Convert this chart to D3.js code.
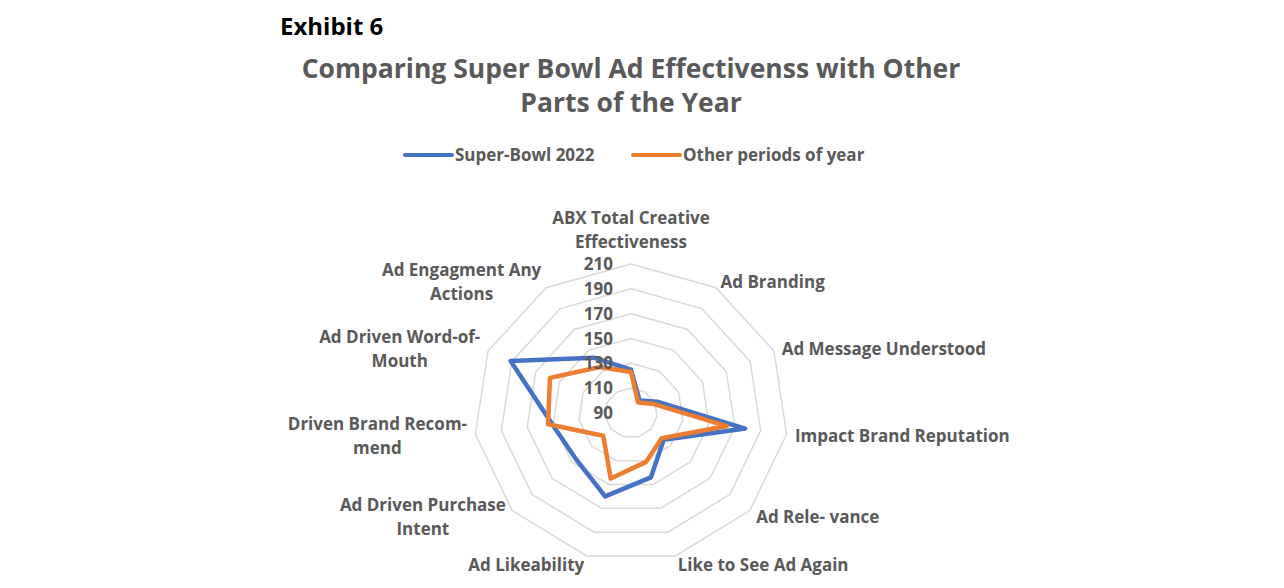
<!DOCTYPE html>
<html>
<head>
<meta charset="utf-8">
<script src="https://cdn.jsdelivr.net/npm/d3@7"></script>
<style>
	html, body { margin: 0; padding: 0; background: #fff; }
	svg text { font-family: "Open Sans", Lato, sans-serif; font-weight: bold; }
</style>
</head>
<body>
<div id="chart"></div>
<script>
'use strict';

// category labels, one entry per spoke (clockwise from top), lines split where Excel wrapped them
var categories = [
	['ABX Total Creative', 'Effectiveness'],
	['Ad Branding'],
	['Ad Message Understood'],
	['Impact Brand Reputation'],
	['Ad Rele- vance'],
	['Like to See Ad Again'],
	['Ad Likeability'],
	['Ad Driven Purchase', 'Intent'],
	['Driven Brand Recom-', 'mend'],
	['Ad Driven Word-of-', 'Mouth'],
	['Ad Engagment Any', 'Actions']
];

var superBowl = [125, 102, 112, 178, 123, 144, 160, 146, 151, 191, 143];
var otherPeriods = [123, 100, 108, 164, 121, 131, 145, 118, 154, 158, 134];

var ticks = [90, 110, 130, 150, 170, 190, 210];

var seriesNames = ['Super-Bowl 2022', 'Other periods of year'];
var seriesColors = ['#4472C4', '#ED7D31'];

var width = 1284;
var height = 588;
var cx = 631;
var cy = 413;
var radius = 149;
var stretch = 1.055;   // the source picture is slightly wider than tall
var textColor = '#595959';

var svg = d3.select('#chart').append('svg')
	.attr('width', width)
	.attr('height', height);

// headings
svg.append('text')
	.attr('x', 280)
	.attr('y', 35)
	.attr('fill', '#000')
	.style('font-size', '24px')
	.text('Exhibit 6');

svg.append('text')
	.attr('x', cx)
	.attr('y', 78)
	.attr('text-anchor', 'middle')
	.attr('fill', textColor)
	.style('font-size', '26.5px')
	.text('Comparing Super Bowl Ad Effectivenss with Other');

svg.append('text')
	.attr('x', cx)
	.attr('y', 112)
	.attr('text-anchor', 'middle')
	.attr('fill', textColor)
	.style('font-size', '26.5px')
	.text('Parts of the Year');

// legend
var legendX = [405, 633];
var legend = svg.append('g').attr('class', 'legend');
seriesNames.forEach(function(name, i){
	legend.append('line')
		.attr('x1', legendX[i])
		.attr('x2', legendX[i] + 47)
		.attr('y1', 155)
		.attr('y2', 155)
		.attr('stroke', seriesColors[i])
		.attr('stroke-width', 4)
		.attr('stroke-linecap', 'round');
	legend.append('text')
		.attr('x', legendX[i] + 50)
		.attr('y', 161)
		.attr('fill', textColor)
		.style('font-size', '17px')
		.text(name);
});

// scales
var r = d3.scaleLinear().domain([90, 210]).range([0, radius]);
var angle = d3.scaleLinear().domain([0, categories.length]).range([0, 2 * Math.PI]);
var idx = d3.range(categories.length);

var line = d3.lineRadial()
	.curve(d3.curveLinearClosed);

var plot = svg.append('g')
	.attr('transform', 'translate(' + cx + ',' + cy + ') scale(' + stretch + ',1)');

// grid rings
plot.append('g').attr('class', 'grid')
	.selectAll('path')
	.data(ticks.slice(1))
	.enter().append('path')
	.attr('d', function(t){
		return line.angle(function(i){ return angle(i); }).radius(function(){ return r(t); })(idx);
	})
	.attr('fill', 'none')
	.attr('stroke', '#d9d9d9')
	.attr('stroke-width', 1.5)
	.attr('vector-effect', 'non-scaling-stroke');

// series
[superBowl, otherPeriods].forEach(function(values, s){
	plot.append('path')
		.attr('d', line.angle(function(i){ return angle(i); }).radius(function(i){ return r(values[i]); })(idx))
		.attr('fill', 'none')
		.attr('stroke', seriesColors[s])
		.attr('stroke-width', 4.5)
		.attr('stroke-linejoin', 'round')
		.attr('vector-effect', 'non-scaling-stroke');
});

// tick labels on the top spoke
svg.append('g').attr('class', 'ticks')
	.selectAll('text')
	.data(ticks)
	.enter().append('text')
	.attr('x', cx - 18)
	.attr('y', function(t){ return cy - r(t) + 6; })
	.attr('text-anchor', 'end')
	.attr('fill', textColor)
	.style('font-size', '17px')
	.text(function(t){ return t; });

// category labels just outside the outer ring
var lineH = 24;
var labels = svg.append('g').attr('class', 'labels');
categories.forEach(function(lines, i){
	var a = angle(i);
	var sx = Math.sin(a), sy = -Math.cos(a);
	var px = cx + (r(210) + 8) * sx * stretch;
	var py = cy + (r(210) + 8) * sy;
	var g = labels.append('g');
	var t = g.append('text')
		.attr('fill', textColor)
		.style('font-size', '17px');
	lines.forEach(function(l, k){
		t.append('tspan').attr('x', 0).attr('dy', k === 0 ? 0 : lineH).text(l);
	});
	var w = t.node().getBBox().width;
	var blockH = (lines.length - 1) * lineH;
	var x, y;
	if (i === 0) {
		t.attr('text-anchor', 'middle');
		x = px;
		y = py - blockH - 8;
	} else if (sx > 0) {
		t.attr('text-anchor', 'start');
		x = px;
		y = py - blockH / 2 + 7;
	} else {
		t.attr('text-anchor', 'middle');
		x = px - w / 2;
		y = py - blockH / 2 + 7;
	}
	g.attr('transform', 'translate(' + x + ',' + y + ')');
});
</script>
</body>
</html>
